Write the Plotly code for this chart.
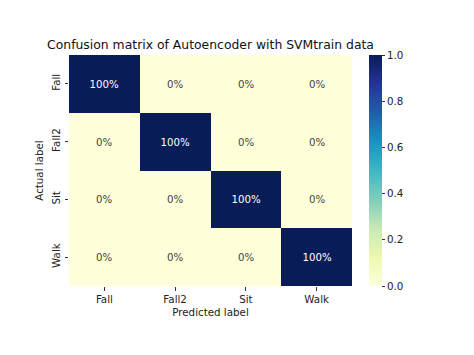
import plotly.graph_objects as go

labels = ["Fall", "Fall2", "Sit", "Walk"]
values = [
    [1.0, 0.0, 0.0, 0.0],
    [0.0, 1.0, 0.0, 0.0],
    [0.0, 0.0, 1.0, 0.0],
    [0.0, 0.0, 0.0, 1.0],
]
cell_text = [[f"{v*100:.0f}%" for v in row] for row in values]

ylgnbu = ['#ffffd9', '#edf8b1', '#c7e9b4', '#7fcdbb', '#41b6c4',
          '#1d91c0', '#225ea8', '#253494', '#081d58']
cs = [[i / (len(ylgnbu) - 1), c] for i, c in enumerate(ylgnbu)]

font = "DejaVu Sans"
W, H = 466, 347  # page body has an 8px margin

fig = go.Figure(go.Heatmap(
    z=values, x=labels, y=labels, text=cell_text, texttemplate="%{text}",
    textfont=dict(family=font, size=10.2),
    colorscale=cs, zmin=0, zmax=1, xgap=0, ygap=0,
    colorbar=dict(x=1.06, xanchor="left", y=0.5, yanchor="middle", len=1.0,
                  lenmode="fraction", thickness=13, outlinewidth=0, ypad=0, xpad=0,
                  tickvals=[0, 0.2, 0.4, 0.6, 0.8, 1.0],
                  ticktext=["0.0", "0.2", "0.4", "0.6", "0.8", "1.0"],
                  ticks="outside", ticklen=3.5, tickcolor="#333",
                  tickfont=dict(family=font, size=10.3, color="#222")),
))

fig.update_layout(
    width=W, height=H,
    margin=dict(l=61, r=122, t=47, b=69, autoexpand=False),
    paper_bgcolor="white", plot_bgcolor="white",
    title=dict(text="Confusion matrix of Autoencoder with SVMtrain data",
               x=0.5, xref="paper", xanchor="center", yref="container",
               y=1 - 37/H, yanchor="middle",
               font=dict(family=font, size=12.4, color="#111")),
    font=dict(family=font, size=10.3, color="#222"),
    xaxis=dict(title=dict(text="Predicted label", standoff=4, font=dict(size=10.3)),
               ticks="outside", ticklen=3.5, tickcolor="#333", showgrid=False,
               zeroline=False, showline=False, tickfont=dict(size=10.3), automargin=False),
    yaxis=dict(title=dict(text="Actual label", standoff=4, font=dict(size=10.3)),
               autorange="reversed", tickangle=-90,
               ticks="outside", ticklen=3.5, tickcolor="#333", showgrid=False,
               zeroline=False, showline=False, tickfont=dict(size=10.3), automargin=False),
)

fig.write_html("out.html")
